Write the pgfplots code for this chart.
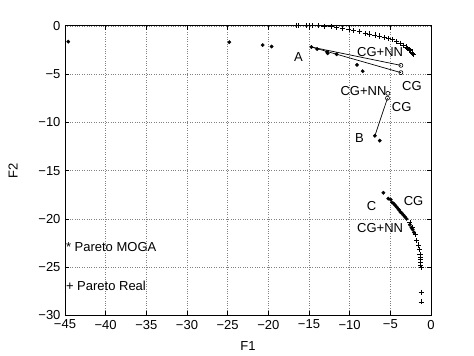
\documentclass[border=0pt]{standalone}
\usepackage{fontspec}
\setmainfont{Liberation Sans}
\usepackage{pgfplots}
\pgfplotsset{compat=1.18}
\begin{document}
\fontsize{13}{15}\selectfont
\begin{tikzpicture}
\path (-65pt,-35.4pt) rectangle (409pt,315.4pt);
\begin{axis}[at={(0,0)},anchor=south west, scale only axis,
  width=366pt, height=289.6pt,
  xmin=-45,xmax=0,ymin=-30,ymax=0,
  xtick={-45,-40,...,0},
  xticklabels={−45,−40,−35,−30,−25,−20,−15,−10,−5,0},
  ytick={-30,-25,...,0},
  yticklabels={−30,−25,−20,−15,−10,−5,0},
  tick align=inside, tick pos=both,
  major tick length=4pt,
  grid=major,
  major grid style={dotted, black!50, line width=0.5pt},
  axis line style={line width=0.8pt},
  tick style={line width=0.6pt, black},
  ticklabel style={font=\fontsize{13}{15}\selectfont},
  xlabel={F1}, ylabel={F2},
  label style={font=\fontsize{13}{15}\selectfont},
  xlabel style={yshift=-4pt},
  ylabel style={yshift=12pt},
  clip=false,
]
% Pareto MOGA
\addplot[only marks, mark=*, mark size=1.7pt, black] coordinates {
(-44.6,-1.65) (-24.8,-1.7) (-20.7,-2.0) (-19.6,-2.15)
(-14.7,-2.2) (-14.0,-2.4) (-12.8,-2.7) (-12.7,-2.85) (-11.6,-2.95) (-9.1,-4.05) (-8.4,-4.7)
(-6.9,-11.4) (-6.3,-11.9)
(-5.85,-17.3) (-5.25,-17.9) (-4.95,-18.0) (-4.8,-18.3) (-4.6,-18.4) (-4.4,-18.6)
(-4.2,-18.8) (-4.0,-19.0) (-3.9,-19.1) (-3.75,-19.3) (-3.6,-19.4) (-3.4,-19.6)
(-3.2,-19.8) (-3.0,-20.0) (-2.6,-20.6) (-2.4,-20.9) (-2.25,-21.1) (-2.1,-21.4)
};
% Pareto Real
\addplot[only marks, mark=+, mark size=2.6pt, black, mark options={line width=0.7pt}] coordinates {
(-16.5,0) (-16.25,0) (-15.3,0) (-14.95,0) (-14.6,0) (-13.85,0) (-13.15,-0.05)
(-12.3,-0.05) (-11.6,-0.15) (-10.85,-0.25) (-10.1,-0.35) (-9.55,-0.5) (-8.8,-0.6)
(-8.1,-0.8) (-7.6,-0.85) (-6.9,-0.95) (-6.3,-1.05) (-5.75,-1.2) (-5.2,-1.35)
(-4.7,-1.45) (-4.2,-1.65) (-3.8,-1.8) (-3.4,-2.0) (-3.0,-2.2) (-2.9,-2.35)
(-2.65,-2.45) (-2.5,-2.55) (-2.35,-2.7) (-2.25,-2.85) (-2.15,-3.0)
(-2.6,-20.4) (-2.3,-20.9) (-1.95,-21.6) (-1.75,-22.2) (-1.55,-22.7) (-1.4,-23.2)
(-1.35,-23.7) (-1.3,-24.0) (-1.25,-24.2) (-1.25,-24.5) (-1.25,-24.8) (-1.2,-25.0)
(-1.2,-27.6) (-1.2,-28.6)
};
% CG / CG+NN lines
\addplot[black, line width=0.7pt] coordinates {(-14.7,-2.2) (-3.7,-4.1)};
\addplot[black, line width=0.7pt] coordinates {(-14.7,-2.2) (-3.7,-4.85)};
\addplot[black, line width=0.7pt] coordinates {(-6.9,-11.4) (-5.35,-7.5)};
\addplot[only marks, mark=o, mark size=2pt, black, mark options={fill=white, line width=0.6pt}] coordinates {
(-3.7,-4.1) (-3.7,-4.85) (-5.35,-7.5) (-5.3,-7.0)
};
\node at (axis cs:-16.3,-3.2) {A};
\node at (axis cs:-6.25,-2.7) {CG+NN};
\node at (axis cs:-2.35,-6.2) {CG};
\node at (axis cs:-8.3,-6.8) {CG+NN};
\node at (axis cs:-3.6,-8.4) {CG};
\node at (axis cs:-8.8,-11.6) {B};
\node at (axis cs:-7.3,-18.65) {C};
\node at (axis cs:-2.15,-18.2) {CG};
\node at (axis cs:-6.25,-20.9) {CG+NN};
\node[anchor=west, inner sep=0pt] at (axis cs:-44.9,-22.9) {* Pareto MOGA};
\node[anchor=west, inner sep=0pt] at (axis cs:-44.9,-26.9) {+ Pareto Real};
\end{axis}
\end{tikzpicture}
\end{document}
